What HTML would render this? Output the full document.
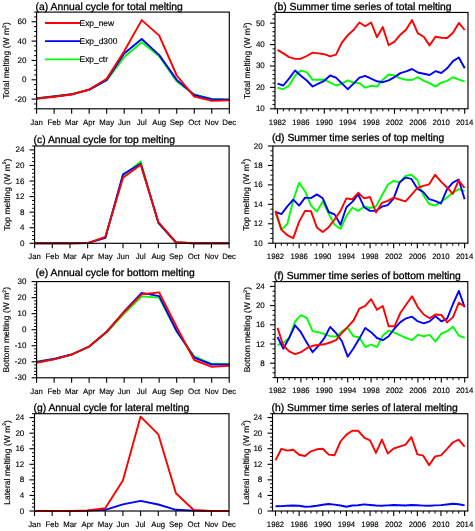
<!DOCTYPE html>
<html><head><meta charset="utf-8"><title>Melting</title>
<style>html,body{margin:0;padding:0;background:#fff;width:475px;height:531px;overflow:hidden;font-family:"Liberation Sans",sans-serif}svg{display:block;text-rendering:geometricPrecision}svg text{stroke:#000;stroke-width:0.14px}svg text.t{stroke-width:0.3px}svg text.a{stroke-width:0.16px}svg text.l{stroke-width:0.16px}svg{will-change:transform}</style>
</head><body>
<svg width="475" height="531" viewBox="0 0 475 531" font-family='&quot;Liberation Sans&quot;, sans-serif' fill="#000">
<rect width="100%" height="100%" fill="#fff"/>
<polyline points="36.6,98.2 54.12,96.3 71.64,94.2 89.15,89.6 106.67,80.4 124.19,57.1 141.71,42.3 159.23,56.3 176.75,81.5 194.26,94.5 211.78,99 229.3,99.5" fill="none" stroke="#00ff00" stroke-width="1.9" stroke-linejoin="round" stroke-linecap="butt"/>
<polyline points="36.6,98.4 54.12,96.5 71.64,94.3 89.15,89.8 106.67,79.9 124.19,53.4 141.71,39 159.23,55.1 176.75,79.9 194.26,95 211.78,99.2 229.3,99.6" fill="none" stroke="#0000ff" stroke-width="1.9" stroke-linejoin="round" stroke-linecap="butt"/>
<polyline points="36.6,98.7 54.12,96.7 71.64,94.5 89.15,89.5 106.67,78.7 124.19,51.2 141.71,20.1 159.23,35.6 176.75,75.5 194.26,96.7 211.78,100.9 229.3,100.4" fill="none" stroke="#ff0000" stroke-width="1.9" stroke-linejoin="round" stroke-linecap="butt"/>
<rect x="36.6" y="12.1" width="192.7" height="96.7" fill="none" stroke="#000" stroke-width="1.15"/>
<line x1="31.6" y1="99.13" x2="36.6" y2="99.13" stroke="#000" stroke-width="1.1"/>
<line x1="31.6" y1="79.79" x2="36.6" y2="79.79" stroke="#000" stroke-width="1.1"/>
<line x1="31.6" y1="60.45" x2="36.6" y2="60.45" stroke="#000" stroke-width="1.1"/>
<line x1="31.6" y1="41.11" x2="36.6" y2="41.11" stroke="#000" stroke-width="1.1"/>
<line x1="31.6" y1="21.77" x2="36.6" y2="21.77" stroke="#000" stroke-width="1.1"/>
<line x1="34.1" y1="108.8" x2="36.6" y2="108.8" stroke="#000" stroke-width="0.9900000000000001"/>
<line x1="34.1" y1="103.96" x2="36.6" y2="103.96" stroke="#000" stroke-width="0.9900000000000001"/>
<line x1="34.1" y1="94.29" x2="36.6" y2="94.29" stroke="#000" stroke-width="0.9900000000000001"/>
<line x1="34.1" y1="89.46" x2="36.6" y2="89.46" stroke="#000" stroke-width="0.9900000000000001"/>
<line x1="34.1" y1="84.62" x2="36.6" y2="84.62" stroke="#000" stroke-width="0.9900000000000001"/>
<line x1="34.1" y1="74.95" x2="36.6" y2="74.95" stroke="#000" stroke-width="0.9900000000000001"/>
<line x1="34.1" y1="70.12" x2="36.6" y2="70.12" stroke="#000" stroke-width="0.9900000000000001"/>
<line x1="34.1" y1="65.29" x2="36.6" y2="65.29" stroke="#000" stroke-width="0.9900000000000001"/>
<line x1="34.1" y1="55.62" x2="36.6" y2="55.62" stroke="#000" stroke-width="0.9900000000000001"/>
<line x1="34.1" y1="50.78" x2="36.6" y2="50.78" stroke="#000" stroke-width="0.9900000000000001"/>
<line x1="34.1" y1="45.95" x2="36.6" y2="45.95" stroke="#000" stroke-width="0.9900000000000001"/>
<line x1="34.1" y1="36.27" x2="36.6" y2="36.27" stroke="#000" stroke-width="0.9900000000000001"/>
<line x1="34.1" y1="31.44" x2="36.6" y2="31.44" stroke="#000" stroke-width="0.9900000000000001"/>
<line x1="34.1" y1="26.6" x2="36.6" y2="26.6" stroke="#000" stroke-width="0.9900000000000001"/>
<line x1="34.1" y1="16.94" x2="36.6" y2="16.94" stroke="#000" stroke-width="0.9900000000000001"/>
<line x1="34.1" y1="12.1" x2="36.6" y2="12.1" stroke="#000" stroke-width="0.9900000000000001"/>
<text x="26.4" y="101.63" text-anchor="end" font-size="8.0">-20</text>
<text x="26.4" y="82.29" text-anchor="end" font-size="8.0">0</text>
<text x="26.4" y="62.95" text-anchor="end" font-size="8.0">20</text>
<text x="26.4" y="43.61" text-anchor="end" font-size="8.0">40</text>
<text x="26.4" y="24.27" text-anchor="end" font-size="8.0">60</text>
<line x1="36.6" y1="108.8" x2="36.6" y2="113.8" stroke="#000" stroke-width="1.1"/>
<text x="36.6" y="124.6" text-anchor="middle" font-size="7.8">Jan</text>
<line x1="54.12" y1="108.8" x2="54.12" y2="113.8" stroke="#000" stroke-width="1.1"/>
<text x="54.12" y="124.6" text-anchor="middle" font-size="7.8">Feb</text>
<line x1="71.64" y1="108.8" x2="71.64" y2="113.8" stroke="#000" stroke-width="1.1"/>
<text x="71.64" y="124.6" text-anchor="middle" font-size="7.8">Mar</text>
<line x1="89.15" y1="108.8" x2="89.15" y2="113.8" stroke="#000" stroke-width="1.1"/>
<text x="89.15" y="124.6" text-anchor="middle" font-size="7.8">Apr</text>
<line x1="106.67" y1="108.8" x2="106.67" y2="113.8" stroke="#000" stroke-width="1.1"/>
<text x="106.67" y="124.6" text-anchor="middle" font-size="7.8">May</text>
<line x1="124.19" y1="108.8" x2="124.19" y2="113.8" stroke="#000" stroke-width="1.1"/>
<text x="124.19" y="124.6" text-anchor="middle" font-size="7.8">Jun</text>
<line x1="141.71" y1="108.8" x2="141.71" y2="113.8" stroke="#000" stroke-width="1.1"/>
<text x="141.71" y="124.6" text-anchor="middle" font-size="7.8">Jul</text>
<line x1="159.23" y1="108.8" x2="159.23" y2="113.8" stroke="#000" stroke-width="1.1"/>
<text x="159.23" y="124.6" text-anchor="middle" font-size="7.8">Aug</text>
<line x1="176.75" y1="108.8" x2="176.75" y2="113.8" stroke="#000" stroke-width="1.1"/>
<text x="176.75" y="124.6" text-anchor="middle" font-size="7.8">Sep</text>
<line x1="194.26" y1="108.8" x2="194.26" y2="113.8" stroke="#000" stroke-width="1.1"/>
<text x="194.26" y="124.6" text-anchor="middle" font-size="7.8">Oct</text>
<line x1="211.78" y1="108.8" x2="211.78" y2="113.8" stroke="#000" stroke-width="1.1"/>
<text x="211.78" y="124.6" text-anchor="middle" font-size="7.8">Nov</text>
<line x1="229.3" y1="108.8" x2="229.3" y2="113.8" stroke="#000" stroke-width="1.1"/>
<text x="229.3" y="124.6" text-anchor="middle" font-size="7.8">Dec</text>
<text class="t" x="35.6" y="9.5" font-size="10.35">(a) Annual cycle for total melting</text>
<text class="a" transform="translate(9.3,60.45) rotate(-90)" text-anchor="middle" font-size="8.4" letter-spacing="0.08">Total melting (W m<tspan font-size="5" dy="-3.6">2</tspan><tspan dy="3.6">)</tspan></text>
<polyline points="277.5,87.6 283.35,89.3 289.2,85.3 295.05,75.5 300.9,70.6 306.75,72.2 312.6,79.8 318.45,79.8 324.3,79.5 330.15,82.6 336,85.5 341.85,83.6 347.7,80.3 353.55,82.6 359.4,83.2 365.25,87.7 371.1,85.8 376.95,86.6 382.8,79.7 388.65,74.5 394.5,75.5 400.35,78.4 406.2,79.7 412.05,80 417.9,77.2 423.75,80.9 429.6,83.1 435.45,86.6 441.3,82.6 447.15,80.9 453,77.2 458.85,79.7 464.7,81.3" fill="none" stroke="#00ff00" stroke-width="1.9" stroke-linejoin="round" stroke-linecap="butt"/>
<polyline points="277.5,83.7 283.35,85.5 289.2,78.4 295.05,70.5 300.9,75.8 306.75,80.5 312.6,86.5 318.45,83.7 324.3,80.8 330.15,75.5 336,77.6 341.85,83.4 347.7,89.2 353.55,83.6 359.4,77.6 365.25,75.9 371.1,78.7 376.95,81.3 382.8,82.2 388.65,80.3 394.5,77.1 400.35,73.1 406.2,71.3 412.05,69 417.9,72.5 423.75,73.7 429.6,75 435.45,71.2 441.3,73 447.15,68.3 453,61.1 458.85,57.5 464.7,68.3" fill="none" stroke="#0000ff" stroke-width="1.9" stroke-linejoin="round" stroke-linecap="butt"/>
<polyline points="277.5,49.9 283.35,53.4 289.2,57.1 295.05,58.9 300.9,58.7 306.75,56 312.6,52.6 318.45,53.4 324.3,54.2 330.15,56.3 336,54.7 341.85,42.6 347.7,35.3 353.55,30 359.4,22.5 365.25,26.3 371.1,22.5 376.95,37.2 382.8,27.1 388.65,45.3 394.5,41.6 400.35,34.7 406.2,29.5 412.05,20.1 417.9,33.4 423.75,36.8 429.6,45.4 435.45,36.8 441.3,37.8 447.15,38 453,32.7 458.85,22.9 464.7,30" fill="none" stroke="#ff0000" stroke-width="1.9" stroke-linejoin="round" stroke-linecap="butt"/>
<rect x="275" y="12.45" width="193" height="96.35" fill="none" stroke="#000" stroke-width="1.15"/>
<line x1="270" y1="108.8" x2="275" y2="108.8" stroke="#000" stroke-width="1.1"/>
<line x1="270" y1="87.39" x2="275" y2="87.39" stroke="#000" stroke-width="1.1"/>
<line x1="270" y1="65.98" x2="275" y2="65.98" stroke="#000" stroke-width="1.1"/>
<line x1="270" y1="44.57" x2="275" y2="44.57" stroke="#000" stroke-width="1.1"/>
<line x1="270" y1="23.16" x2="275" y2="23.16" stroke="#000" stroke-width="1.1"/>
<line x1="272.5" y1="104.52" x2="275" y2="104.52" stroke="#000" stroke-width="0.9900000000000001"/>
<line x1="272.5" y1="100.24" x2="275" y2="100.24" stroke="#000" stroke-width="0.9900000000000001"/>
<line x1="272.5" y1="95.95" x2="275" y2="95.95" stroke="#000" stroke-width="0.9900000000000001"/>
<line x1="272.5" y1="91.67" x2="275" y2="91.67" stroke="#000" stroke-width="0.9900000000000001"/>
<line x1="272.5" y1="83.11" x2="275" y2="83.11" stroke="#000" stroke-width="0.9900000000000001"/>
<line x1="272.5" y1="78.82" x2="275" y2="78.82" stroke="#000" stroke-width="0.9900000000000001"/>
<line x1="272.5" y1="74.54" x2="275" y2="74.54" stroke="#000" stroke-width="0.9900000000000001"/>
<line x1="272.5" y1="70.26" x2="275" y2="70.26" stroke="#000" stroke-width="0.9900000000000001"/>
<line x1="272.5" y1="61.7" x2="275" y2="61.7" stroke="#000" stroke-width="0.9900000000000001"/>
<line x1="272.5" y1="57.41" x2="275" y2="57.41" stroke="#000" stroke-width="0.9900000000000001"/>
<line x1="272.5" y1="53.13" x2="275" y2="53.13" stroke="#000" stroke-width="0.9900000000000001"/>
<line x1="272.5" y1="48.85" x2="275" y2="48.85" stroke="#000" stroke-width="0.9900000000000001"/>
<line x1="272.5" y1="40.28" x2="275" y2="40.28" stroke="#000" stroke-width="0.9900000000000001"/>
<line x1="272.5" y1="36" x2="275" y2="36" stroke="#000" stroke-width="0.9900000000000001"/>
<line x1="272.5" y1="31.72" x2="275" y2="31.72" stroke="#000" stroke-width="0.9900000000000001"/>
<line x1="272.5" y1="27.44" x2="275" y2="27.44" stroke="#000" stroke-width="0.9900000000000001"/>
<line x1="272.5" y1="18.87" x2="275" y2="18.87" stroke="#000" stroke-width="0.9900000000000001"/>
<line x1="272.5" y1="14.59" x2="275" y2="14.59" stroke="#000" stroke-width="0.9900000000000001"/>
<text x="264.8" y="111.3" text-anchor="end" font-size="8.0">10</text>
<text x="264.8" y="89.89" text-anchor="end" font-size="8.0">20</text>
<text x="264.8" y="68.48" text-anchor="end" font-size="8.0">30</text>
<text x="264.8" y="47.07" text-anchor="end" font-size="8.0">40</text>
<text x="264.8" y="25.66" text-anchor="end" font-size="8.0">50</text>
<line x1="277.5" y1="108.8" x2="277.5" y2="113.8" stroke="#000" stroke-width="1.1"/>
<text x="277.5" y="124.6" text-anchor="middle" font-size="7.8">1982</text>
<line x1="283.35" y1="108.8" x2="283.35" y2="111.3" stroke="#000" stroke-width="0.9900000000000001"/>
<line x1="289.2" y1="108.8" x2="289.2" y2="111.3" stroke="#000" stroke-width="0.9900000000000001"/>
<line x1="295.05" y1="108.8" x2="295.05" y2="111.3" stroke="#000" stroke-width="0.9900000000000001"/>
<line x1="300.9" y1="108.8" x2="300.9" y2="113.8" stroke="#000" stroke-width="1.1"/>
<text x="300.9" y="124.6" text-anchor="middle" font-size="7.8">1986</text>
<line x1="306.75" y1="108.8" x2="306.75" y2="111.3" stroke="#000" stroke-width="0.9900000000000001"/>
<line x1="312.6" y1="108.8" x2="312.6" y2="111.3" stroke="#000" stroke-width="0.9900000000000001"/>
<line x1="318.45" y1="108.8" x2="318.45" y2="111.3" stroke="#000" stroke-width="0.9900000000000001"/>
<line x1="324.3" y1="108.8" x2="324.3" y2="113.8" stroke="#000" stroke-width="1.1"/>
<text x="324.3" y="124.6" text-anchor="middle" font-size="7.8">1990</text>
<line x1="330.15" y1="108.8" x2="330.15" y2="111.3" stroke="#000" stroke-width="0.9900000000000001"/>
<line x1="336" y1="108.8" x2="336" y2="111.3" stroke="#000" stroke-width="0.9900000000000001"/>
<line x1="341.85" y1="108.8" x2="341.85" y2="111.3" stroke="#000" stroke-width="0.9900000000000001"/>
<line x1="347.7" y1="108.8" x2="347.7" y2="113.8" stroke="#000" stroke-width="1.1"/>
<text x="347.7" y="124.6" text-anchor="middle" font-size="7.8">1994</text>
<line x1="353.55" y1="108.8" x2="353.55" y2="111.3" stroke="#000" stroke-width="0.9900000000000001"/>
<line x1="359.4" y1="108.8" x2="359.4" y2="111.3" stroke="#000" stroke-width="0.9900000000000001"/>
<line x1="365.25" y1="108.8" x2="365.25" y2="111.3" stroke="#000" stroke-width="0.9900000000000001"/>
<line x1="371.1" y1="108.8" x2="371.1" y2="113.8" stroke="#000" stroke-width="1.1"/>
<text x="371.1" y="124.6" text-anchor="middle" font-size="7.8">1998</text>
<line x1="376.95" y1="108.8" x2="376.95" y2="111.3" stroke="#000" stroke-width="0.9900000000000001"/>
<line x1="382.8" y1="108.8" x2="382.8" y2="111.3" stroke="#000" stroke-width="0.9900000000000001"/>
<line x1="388.65" y1="108.8" x2="388.65" y2="111.3" stroke="#000" stroke-width="0.9900000000000001"/>
<line x1="394.5" y1="108.8" x2="394.5" y2="113.8" stroke="#000" stroke-width="1.1"/>
<text x="394.5" y="124.6" text-anchor="middle" font-size="7.8">2002</text>
<line x1="400.35" y1="108.8" x2="400.35" y2="111.3" stroke="#000" stroke-width="0.9900000000000001"/>
<line x1="406.2" y1="108.8" x2="406.2" y2="111.3" stroke="#000" stroke-width="0.9900000000000001"/>
<line x1="412.05" y1="108.8" x2="412.05" y2="111.3" stroke="#000" stroke-width="0.9900000000000001"/>
<line x1="417.9" y1="108.8" x2="417.9" y2="113.8" stroke="#000" stroke-width="1.1"/>
<text x="417.9" y="124.6" text-anchor="middle" font-size="7.8">2006</text>
<line x1="423.75" y1="108.8" x2="423.75" y2="111.3" stroke="#000" stroke-width="0.9900000000000001"/>
<line x1="429.6" y1="108.8" x2="429.6" y2="111.3" stroke="#000" stroke-width="0.9900000000000001"/>
<line x1="435.45" y1="108.8" x2="435.45" y2="111.3" stroke="#000" stroke-width="0.9900000000000001"/>
<line x1="441.3" y1="108.8" x2="441.3" y2="113.8" stroke="#000" stroke-width="1.1"/>
<text x="441.3" y="124.6" text-anchor="middle" font-size="7.8">2010</text>
<line x1="447.15" y1="108.8" x2="447.15" y2="111.3" stroke="#000" stroke-width="0.9900000000000001"/>
<line x1="453" y1="108.8" x2="453" y2="111.3" stroke="#000" stroke-width="0.9900000000000001"/>
<line x1="458.85" y1="108.8" x2="458.85" y2="111.3" stroke="#000" stroke-width="0.9900000000000001"/>
<line x1="464.7" y1="108.8" x2="464.7" y2="113.8" stroke="#000" stroke-width="1.1"/>
<text x="464.7" y="124.6" text-anchor="middle" font-size="7.8">2014</text>
<text class="t" x="274" y="9.85" font-size="10.35">(b) Summer time series of total melting</text>
<text class="a" transform="translate(250.1,60.62) rotate(-90)" text-anchor="middle" font-size="8.4" letter-spacing="0.08">Total melting (W m<tspan font-size="5" dy="-3.6">2</tspan><tspan dy="3.6">)</tspan></text>
<polyline points="34.6,243.3 52.28,243.3 69.96,243.3 87.65,243.1 105.33,237.5 123.01,176 140.69,161.6 158.37,222.8 176.05,242.5 193.74,243.3 211.42,243.3 229.1,243.3" fill="none" stroke="#00ff00" stroke-width="1.9" stroke-linejoin="round" stroke-linecap="butt"/>
<polyline points="34.6,243.3 52.28,243.3 69.96,243.3 87.65,243.1 105.33,237.9 123.01,174.3 140.69,163.7 158.37,222.8 176.05,242.5 193.74,243.3 211.42,243.3 229.1,243.3" fill="none" stroke="#0000ff" stroke-width="1.9" stroke-linejoin="round" stroke-linecap="butt"/>
<polyline points="34.6,243.3 52.28,243.3 69.96,243.3 87.65,243.1 105.33,236.8 123.01,177.8 140.69,164.8 158.37,222 176.05,242.3 193.74,243.3 211.42,243.3 229.1,243.3" fill="none" stroke="#ff0000" stroke-width="1.9" stroke-linejoin="round" stroke-linecap="butt"/>
<rect x="34.6" y="146" width="194.5" height="97.3" fill="none" stroke="#000" stroke-width="1.15"/>
<line x1="29.6" y1="243.3" x2="34.6" y2="243.3" stroke="#000" stroke-width="1.1"/>
<line x1="29.6" y1="227.73" x2="34.6" y2="227.73" stroke="#000" stroke-width="1.1"/>
<line x1="29.6" y1="212.16" x2="34.6" y2="212.16" stroke="#000" stroke-width="1.1"/>
<line x1="29.6" y1="196.6" x2="34.6" y2="196.6" stroke="#000" stroke-width="1.1"/>
<line x1="29.6" y1="181.03" x2="34.6" y2="181.03" stroke="#000" stroke-width="1.1"/>
<line x1="29.6" y1="165.46" x2="34.6" y2="165.46" stroke="#000" stroke-width="1.1"/>
<line x1="29.6" y1="149.89" x2="34.6" y2="149.89" stroke="#000" stroke-width="1.1"/>
<line x1="32.1" y1="239.41" x2="34.6" y2="239.41" stroke="#000" stroke-width="0.9900000000000001"/>
<line x1="32.1" y1="235.52" x2="34.6" y2="235.52" stroke="#000" stroke-width="0.9900000000000001"/>
<line x1="32.1" y1="231.62" x2="34.6" y2="231.62" stroke="#000" stroke-width="0.9900000000000001"/>
<line x1="32.1" y1="223.84" x2="34.6" y2="223.84" stroke="#000" stroke-width="0.9900000000000001"/>
<line x1="32.1" y1="219.95" x2="34.6" y2="219.95" stroke="#000" stroke-width="0.9900000000000001"/>
<line x1="32.1" y1="216.06" x2="34.6" y2="216.06" stroke="#000" stroke-width="0.9900000000000001"/>
<line x1="32.1" y1="208.27" x2="34.6" y2="208.27" stroke="#000" stroke-width="0.9900000000000001"/>
<line x1="32.1" y1="204.38" x2="34.6" y2="204.38" stroke="#000" stroke-width="0.9900000000000001"/>
<line x1="32.1" y1="200.49" x2="34.6" y2="200.49" stroke="#000" stroke-width="0.9900000000000001"/>
<line x1="32.1" y1="192.7" x2="34.6" y2="192.7" stroke="#000" stroke-width="0.9900000000000001"/>
<line x1="32.1" y1="188.81" x2="34.6" y2="188.81" stroke="#000" stroke-width="0.9900000000000001"/>
<line x1="32.1" y1="184.92" x2="34.6" y2="184.92" stroke="#000" stroke-width="0.9900000000000001"/>
<line x1="32.1" y1="177.14" x2="34.6" y2="177.14" stroke="#000" stroke-width="0.9900000000000001"/>
<line x1="32.1" y1="173.24" x2="34.6" y2="173.24" stroke="#000" stroke-width="0.9900000000000001"/>
<line x1="32.1" y1="169.35" x2="34.6" y2="169.35" stroke="#000" stroke-width="0.9900000000000001"/>
<line x1="32.1" y1="161.57" x2="34.6" y2="161.57" stroke="#000" stroke-width="0.9900000000000001"/>
<line x1="32.1" y1="157.68" x2="34.6" y2="157.68" stroke="#000" stroke-width="0.9900000000000001"/>
<line x1="32.1" y1="153.78" x2="34.6" y2="153.78" stroke="#000" stroke-width="0.9900000000000001"/>
<line x1="32.1" y1="146" x2="34.6" y2="146" stroke="#000" stroke-width="0.9900000000000001"/>
<text x="24.4" y="245.8" text-anchor="end" font-size="8.0">0</text>
<text x="24.4" y="230.23" text-anchor="end" font-size="8.0">4</text>
<text x="24.4" y="214.66" text-anchor="end" font-size="8.0">8</text>
<text x="24.4" y="199.1" text-anchor="end" font-size="8.0">12</text>
<text x="24.4" y="183.53" text-anchor="end" font-size="8.0">16</text>
<text x="24.4" y="167.96" text-anchor="end" font-size="8.0">20</text>
<text x="24.4" y="152.39" text-anchor="end" font-size="8.0">24</text>
<line x1="34.6" y1="243.3" x2="34.6" y2="248.3" stroke="#000" stroke-width="1.1"/>
<text x="34.6" y="259.1" text-anchor="middle" font-size="7.8">Jan</text>
<line x1="52.28" y1="243.3" x2="52.28" y2="248.3" stroke="#000" stroke-width="1.1"/>
<text x="52.28" y="259.1" text-anchor="middle" font-size="7.8">Feb</text>
<line x1="69.96" y1="243.3" x2="69.96" y2="248.3" stroke="#000" stroke-width="1.1"/>
<text x="69.96" y="259.1" text-anchor="middle" font-size="7.8">Mar</text>
<line x1="87.65" y1="243.3" x2="87.65" y2="248.3" stroke="#000" stroke-width="1.1"/>
<text x="87.65" y="259.1" text-anchor="middle" font-size="7.8">Apr</text>
<line x1="105.33" y1="243.3" x2="105.33" y2="248.3" stroke="#000" stroke-width="1.1"/>
<text x="105.33" y="259.1" text-anchor="middle" font-size="7.8">May</text>
<line x1="123.01" y1="243.3" x2="123.01" y2="248.3" stroke="#000" stroke-width="1.1"/>
<text x="123.01" y="259.1" text-anchor="middle" font-size="7.8">Jun</text>
<line x1="140.69" y1="243.3" x2="140.69" y2="248.3" stroke="#000" stroke-width="1.1"/>
<text x="140.69" y="259.1" text-anchor="middle" font-size="7.8">Jul</text>
<line x1="158.37" y1="243.3" x2="158.37" y2="248.3" stroke="#000" stroke-width="1.1"/>
<text x="158.37" y="259.1" text-anchor="middle" font-size="7.8">Aug</text>
<line x1="176.05" y1="243.3" x2="176.05" y2="248.3" stroke="#000" stroke-width="1.1"/>
<text x="176.05" y="259.1" text-anchor="middle" font-size="7.8">Sep</text>
<line x1="193.74" y1="243.3" x2="193.74" y2="248.3" stroke="#000" stroke-width="1.1"/>
<text x="193.74" y="259.1" text-anchor="middle" font-size="7.8">Oct</text>
<line x1="211.42" y1="243.3" x2="211.42" y2="248.3" stroke="#000" stroke-width="1.1"/>
<text x="211.42" y="259.1" text-anchor="middle" font-size="7.8">Nov</text>
<line x1="229.1" y1="243.3" x2="229.1" y2="248.3" stroke="#000" stroke-width="1.1"/>
<text x="229.1" y="259.1" text-anchor="middle" font-size="7.8">Dec</text>
<text class="t" x="33.6" y="143.4" font-size="10.35">(c) Annual cycle for top melting</text>
<text class="a" transform="translate(9.5,194.65) rotate(-90)" text-anchor="middle" font-size="8.4" letter-spacing="0.08">Top melting (W m<tspan font-size="5" dy="-3.6">2</tspan><tspan dy="3.6">)</tspan></text>
<polyline points="275.5,212.8 281.41,229.6 287.32,224 293.23,200 299.14,182.7 305.05,191.2 310.96,205.6 316.87,211.5 322.77,201.4 328.68,213.6 334.59,224.8 340.5,228.8 346.41,216 352.32,207.7 358.23,210.9 364.14,206.4 370.05,208 375.96,206.4 381.87,195.5 387.78,184.8 393.69,180.8 399.6,182.4 405.51,176 411.42,174.7 417.33,180 423.23,195 429.14,204 435.05,205.6 440.96,201.9 446.87,197.6 452.78,192.8 458.69,189.1 464.6,191.2" fill="none" stroke="#00ff00" stroke-width="1.9" stroke-linejoin="round" stroke-linecap="butt"/>
<polyline points="275.5,212 281.41,214.1 287.32,206.4 293.23,199.7 299.14,205.6 305.05,197.6 310.96,198.1 316.87,194.4 322.77,198.3 328.68,212 334.59,214.4 340.5,224.8 346.41,207.2 352.32,201.9 358.23,194.4 364.14,207.2 370.05,210.9 375.96,210.9 381.87,206.7 387.78,205.1 393.69,198.4 399.6,182.4 405.51,177.6 411.42,178.9 417.33,188.6 423.23,192 429.14,199.2 435.05,200.8 440.96,203.5 446.87,189.6 452.78,182.7 458.69,179.5 464.6,199.2" fill="none" stroke="#0000ff" stroke-width="1.9" stroke-linejoin="round" stroke-linecap="butt"/>
<polyline points="275.5,210.9 281.41,229.6 287.32,235.2 293.23,238.1 299.14,221.6 305.05,210.9 310.96,211.2 316.87,227.4 322.77,232 328.68,227.2 334.59,219.5 340.5,210.9 346.41,198.4 352.32,199.2 358.23,192.8 364.14,198.4 370.05,197 375.96,212.5 381.87,202.9 387.78,200.8 393.69,197.6 399.6,199.7 405.51,201.3 411.42,194.9 417.33,188 423.23,185.8 429.14,184.3 435.05,174.7 440.96,181.6 446.87,187.2 452.78,193.9 458.69,180.5 464.6,188" fill="none" stroke="#ff0000" stroke-width="1.9" stroke-linejoin="round" stroke-linecap="butt"/>
<rect x="272.9" y="146" width="195" height="97.2" fill="none" stroke="#000" stroke-width="1.15"/>
<line x1="267.9" y1="243.2" x2="272.9" y2="243.2" stroke="#000" stroke-width="1.1"/>
<line x1="267.9" y1="223.76" x2="272.9" y2="223.76" stroke="#000" stroke-width="1.1"/>
<line x1="267.9" y1="204.32" x2="272.9" y2="204.32" stroke="#000" stroke-width="1.1"/>
<line x1="267.9" y1="184.88" x2="272.9" y2="184.88" stroke="#000" stroke-width="1.1"/>
<line x1="267.9" y1="165.44" x2="272.9" y2="165.44" stroke="#000" stroke-width="1.1"/>
<line x1="267.9" y1="146" x2="272.9" y2="146" stroke="#000" stroke-width="1.1"/>
<line x1="270.4" y1="238.34" x2="272.9" y2="238.34" stroke="#000" stroke-width="0.9900000000000001"/>
<line x1="270.4" y1="233.48" x2="272.9" y2="233.48" stroke="#000" stroke-width="0.9900000000000001"/>
<line x1="270.4" y1="228.62" x2="272.9" y2="228.62" stroke="#000" stroke-width="0.9900000000000001"/>
<line x1="270.4" y1="218.9" x2="272.9" y2="218.9" stroke="#000" stroke-width="0.9900000000000001"/>
<line x1="270.4" y1="214.04" x2="272.9" y2="214.04" stroke="#000" stroke-width="0.9900000000000001"/>
<line x1="270.4" y1="209.18" x2="272.9" y2="209.18" stroke="#000" stroke-width="0.9900000000000001"/>
<line x1="270.4" y1="199.46" x2="272.9" y2="199.46" stroke="#000" stroke-width="0.9900000000000001"/>
<line x1="270.4" y1="194.6" x2="272.9" y2="194.6" stroke="#000" stroke-width="0.9900000000000001"/>
<line x1="270.4" y1="189.74" x2="272.9" y2="189.74" stroke="#000" stroke-width="0.9900000000000001"/>
<line x1="270.4" y1="180.02" x2="272.9" y2="180.02" stroke="#000" stroke-width="0.9900000000000001"/>
<line x1="270.4" y1="175.16" x2="272.9" y2="175.16" stroke="#000" stroke-width="0.9900000000000001"/>
<line x1="270.4" y1="170.3" x2="272.9" y2="170.3" stroke="#000" stroke-width="0.9900000000000001"/>
<line x1="270.4" y1="160.58" x2="272.9" y2="160.58" stroke="#000" stroke-width="0.9900000000000001"/>
<line x1="270.4" y1="155.72" x2="272.9" y2="155.72" stroke="#000" stroke-width="0.9900000000000001"/>
<line x1="270.4" y1="150.86" x2="272.9" y2="150.86" stroke="#000" stroke-width="0.9900000000000001"/>
<text x="262.7" y="245.7" text-anchor="end" font-size="8.0">10</text>
<text x="262.7" y="226.26" text-anchor="end" font-size="8.0">12</text>
<text x="262.7" y="206.82" text-anchor="end" font-size="8.0">14</text>
<text x="262.7" y="187.38" text-anchor="end" font-size="8.0">16</text>
<text x="262.7" y="167.94" text-anchor="end" font-size="8.0">18</text>
<text x="262.7" y="148.5" text-anchor="end" font-size="8.0">20</text>
<line x1="275.5" y1="243.2" x2="275.5" y2="248.2" stroke="#000" stroke-width="1.1"/>
<text x="275.5" y="259" text-anchor="middle" font-size="7.8">1982</text>
<line x1="281.41" y1="243.2" x2="281.41" y2="245.7" stroke="#000" stroke-width="0.9900000000000001"/>
<line x1="287.32" y1="243.2" x2="287.32" y2="245.7" stroke="#000" stroke-width="0.9900000000000001"/>
<line x1="293.23" y1="243.2" x2="293.23" y2="245.7" stroke="#000" stroke-width="0.9900000000000001"/>
<line x1="299.14" y1="243.2" x2="299.14" y2="248.2" stroke="#000" stroke-width="1.1"/>
<text x="299.14" y="259" text-anchor="middle" font-size="7.8">1986</text>
<line x1="305.05" y1="243.2" x2="305.05" y2="245.7" stroke="#000" stroke-width="0.9900000000000001"/>
<line x1="310.96" y1="243.2" x2="310.96" y2="245.7" stroke="#000" stroke-width="0.9900000000000001"/>
<line x1="316.87" y1="243.2" x2="316.87" y2="245.7" stroke="#000" stroke-width="0.9900000000000001"/>
<line x1="322.77" y1="243.2" x2="322.77" y2="248.2" stroke="#000" stroke-width="1.1"/>
<text x="322.77" y="259" text-anchor="middle" font-size="7.8">1990</text>
<line x1="328.68" y1="243.2" x2="328.68" y2="245.7" stroke="#000" stroke-width="0.9900000000000001"/>
<line x1="334.59" y1="243.2" x2="334.59" y2="245.7" stroke="#000" stroke-width="0.9900000000000001"/>
<line x1="340.5" y1="243.2" x2="340.5" y2="245.7" stroke="#000" stroke-width="0.9900000000000001"/>
<line x1="346.41" y1="243.2" x2="346.41" y2="248.2" stroke="#000" stroke-width="1.1"/>
<text x="346.41" y="259" text-anchor="middle" font-size="7.8">1994</text>
<line x1="352.32" y1="243.2" x2="352.32" y2="245.7" stroke="#000" stroke-width="0.9900000000000001"/>
<line x1="358.23" y1="243.2" x2="358.23" y2="245.7" stroke="#000" stroke-width="0.9900000000000001"/>
<line x1="364.14" y1="243.2" x2="364.14" y2="245.7" stroke="#000" stroke-width="0.9900000000000001"/>
<line x1="370.05" y1="243.2" x2="370.05" y2="248.2" stroke="#000" stroke-width="1.1"/>
<text x="370.05" y="259" text-anchor="middle" font-size="7.8">1998</text>
<line x1="375.96" y1="243.2" x2="375.96" y2="245.7" stroke="#000" stroke-width="0.9900000000000001"/>
<line x1="381.87" y1="243.2" x2="381.87" y2="245.7" stroke="#000" stroke-width="0.9900000000000001"/>
<line x1="387.78" y1="243.2" x2="387.78" y2="245.7" stroke="#000" stroke-width="0.9900000000000001"/>
<line x1="393.69" y1="243.2" x2="393.69" y2="248.2" stroke="#000" stroke-width="1.1"/>
<text x="393.69" y="259" text-anchor="middle" font-size="7.8">2002</text>
<line x1="399.6" y1="243.2" x2="399.6" y2="245.7" stroke="#000" stroke-width="0.9900000000000001"/>
<line x1="405.51" y1="243.2" x2="405.51" y2="245.7" stroke="#000" stroke-width="0.9900000000000001"/>
<line x1="411.42" y1="243.2" x2="411.42" y2="245.7" stroke="#000" stroke-width="0.9900000000000001"/>
<line x1="417.33" y1="243.2" x2="417.33" y2="248.2" stroke="#000" stroke-width="1.1"/>
<text x="417.33" y="259" text-anchor="middle" font-size="7.8">2006</text>
<line x1="423.23" y1="243.2" x2="423.23" y2="245.7" stroke="#000" stroke-width="0.9900000000000001"/>
<line x1="429.14" y1="243.2" x2="429.14" y2="245.7" stroke="#000" stroke-width="0.9900000000000001"/>
<line x1="435.05" y1="243.2" x2="435.05" y2="245.7" stroke="#000" stroke-width="0.9900000000000001"/>
<line x1="440.96" y1="243.2" x2="440.96" y2="248.2" stroke="#000" stroke-width="1.1"/>
<text x="440.96" y="259" text-anchor="middle" font-size="7.8">2010</text>
<line x1="446.87" y1="243.2" x2="446.87" y2="245.7" stroke="#000" stroke-width="0.9900000000000001"/>
<line x1="452.78" y1="243.2" x2="452.78" y2="245.7" stroke="#000" stroke-width="0.9900000000000001"/>
<line x1="458.69" y1="243.2" x2="458.69" y2="245.7" stroke="#000" stroke-width="0.9900000000000001"/>
<line x1="464.6" y1="243.2" x2="464.6" y2="248.2" stroke="#000" stroke-width="1.1"/>
<text x="464.6" y="259" text-anchor="middle" font-size="7.8">2014</text>
<text class="t" x="271.9" y="140.6" font-size="10.35">(d) Summer time series of top melting</text>
<text class="a" transform="translate(248.7,194.6) rotate(-90)" text-anchor="middle" font-size="8.4" letter-spacing="0.08">Top melting (W m<tspan font-size="5" dy="-3.6">2</tspan><tspan dy="3.6">)</tspan></text>
<polyline points="36.6,361.8 54.11,358.8 71.62,354.5 89.13,346.8 106.64,332.5 124.15,313.5 141.65,296.4 159.16,297.6 176.67,331.5 194.18,356.3 211.69,363.8 229.2,364" fill="none" stroke="#00ff00" stroke-width="1.9" stroke-linejoin="round" stroke-linecap="butt"/>
<polyline points="36.6,362 54.11,359 71.62,354.5 89.13,346.5 106.64,331.8 124.15,311.5 141.65,292.9 159.16,296.1 176.67,331 194.18,357.6 211.69,364.5 229.2,364.5" fill="none" stroke="#0000ff" stroke-width="1.9" stroke-linejoin="round" stroke-linecap="butt"/>
<polyline points="36.6,362.7 54.11,359.4 71.62,354.7 89.13,346.5 106.64,331.6 124.15,312 141.65,294.3 159.16,292.4 176.67,327 194.18,360 211.69,366.9 229.2,365.8" fill="none" stroke="#ff0000" stroke-width="1.9" stroke-linejoin="round" stroke-linecap="butt"/>
<rect x="36.6" y="281.6" width="192.6" height="96.2" fill="none" stroke="#000" stroke-width="1.15"/>
<line x1="31.6" y1="377.8" x2="36.6" y2="377.8" stroke="#000" stroke-width="1.1"/>
<line x1="31.6" y1="361.77" x2="36.6" y2="361.77" stroke="#000" stroke-width="1.1"/>
<line x1="31.6" y1="345.73" x2="36.6" y2="345.73" stroke="#000" stroke-width="1.1"/>
<line x1="31.6" y1="329.7" x2="36.6" y2="329.7" stroke="#000" stroke-width="1.1"/>
<line x1="31.6" y1="313.67" x2="36.6" y2="313.67" stroke="#000" stroke-width="1.1"/>
<line x1="31.6" y1="297.63" x2="36.6" y2="297.63" stroke="#000" stroke-width="1.1"/>
<line x1="31.6" y1="281.6" x2="36.6" y2="281.6" stroke="#000" stroke-width="1.1"/>
<line x1="34.1" y1="374.59" x2="36.6" y2="374.59" stroke="#000" stroke-width="0.9900000000000001"/>
<line x1="34.1" y1="371.39" x2="36.6" y2="371.39" stroke="#000" stroke-width="0.9900000000000001"/>
<line x1="34.1" y1="368.18" x2="36.6" y2="368.18" stroke="#000" stroke-width="0.9900000000000001"/>
<line x1="34.1" y1="364.97" x2="36.6" y2="364.97" stroke="#000" stroke-width="0.9900000000000001"/>
<line x1="34.1" y1="358.56" x2="36.6" y2="358.56" stroke="#000" stroke-width="0.9900000000000001"/>
<line x1="34.1" y1="355.35" x2="36.6" y2="355.35" stroke="#000" stroke-width="0.9900000000000001"/>
<line x1="34.1" y1="352.15" x2="36.6" y2="352.15" stroke="#000" stroke-width="0.9900000000000001"/>
<line x1="34.1" y1="348.94" x2="36.6" y2="348.94" stroke="#000" stroke-width="0.9900000000000001"/>
<line x1="34.1" y1="342.53" x2="36.6" y2="342.53" stroke="#000" stroke-width="0.9900000000000001"/>
<line x1="34.1" y1="339.32" x2="36.6" y2="339.32" stroke="#000" stroke-width="0.9900000000000001"/>
<line x1="34.1" y1="336.11" x2="36.6" y2="336.11" stroke="#000" stroke-width="0.9900000000000001"/>
<line x1="34.1" y1="332.91" x2="36.6" y2="332.91" stroke="#000" stroke-width="0.9900000000000001"/>
<line x1="34.1" y1="326.49" x2="36.6" y2="326.49" stroke="#000" stroke-width="0.9900000000000001"/>
<line x1="34.1" y1="323.29" x2="36.6" y2="323.29" stroke="#000" stroke-width="0.9900000000000001"/>
<line x1="34.1" y1="320.08" x2="36.6" y2="320.08" stroke="#000" stroke-width="0.9900000000000001"/>
<line x1="34.1" y1="316.87" x2="36.6" y2="316.87" stroke="#000" stroke-width="0.9900000000000001"/>
<line x1="34.1" y1="310.46" x2="36.6" y2="310.46" stroke="#000" stroke-width="0.9900000000000001"/>
<line x1="34.1" y1="307.25" x2="36.6" y2="307.25" stroke="#000" stroke-width="0.9900000000000001"/>
<line x1="34.1" y1="304.05" x2="36.6" y2="304.05" stroke="#000" stroke-width="0.9900000000000001"/>
<line x1="34.1" y1="300.84" x2="36.6" y2="300.84" stroke="#000" stroke-width="0.9900000000000001"/>
<line x1="34.1" y1="294.43" x2="36.6" y2="294.43" stroke="#000" stroke-width="0.9900000000000001"/>
<line x1="34.1" y1="291.22" x2="36.6" y2="291.22" stroke="#000" stroke-width="0.9900000000000001"/>
<line x1="34.1" y1="288.01" x2="36.6" y2="288.01" stroke="#000" stroke-width="0.9900000000000001"/>
<line x1="34.1" y1="284.81" x2="36.6" y2="284.81" stroke="#000" stroke-width="0.9900000000000001"/>
<text x="26.4" y="380.3" text-anchor="end" font-size="8.0">-30</text>
<text x="26.4" y="364.27" text-anchor="end" font-size="8.0">-20</text>
<text x="26.4" y="348.23" text-anchor="end" font-size="8.0">-10</text>
<text x="26.4" y="332.2" text-anchor="end" font-size="8.0">0</text>
<text x="26.4" y="316.17" text-anchor="end" font-size="8.0">10</text>
<text x="26.4" y="300.13" text-anchor="end" font-size="8.0">20</text>
<text x="26.4" y="284.1" text-anchor="end" font-size="8.0">30</text>
<line x1="36.6" y1="377.8" x2="36.6" y2="382.8" stroke="#000" stroke-width="1.1"/>
<text x="36.6" y="393.6" text-anchor="middle" font-size="7.8">Jan</text>
<line x1="54.11" y1="377.8" x2="54.11" y2="382.8" stroke="#000" stroke-width="1.1"/>
<text x="54.11" y="393.6" text-anchor="middle" font-size="7.8">Feb</text>
<line x1="71.62" y1="377.8" x2="71.62" y2="382.8" stroke="#000" stroke-width="1.1"/>
<text x="71.62" y="393.6" text-anchor="middle" font-size="7.8">Mar</text>
<line x1="89.13" y1="377.8" x2="89.13" y2="382.8" stroke="#000" stroke-width="1.1"/>
<text x="89.13" y="393.6" text-anchor="middle" font-size="7.8">Apr</text>
<line x1="106.64" y1="377.8" x2="106.64" y2="382.8" stroke="#000" stroke-width="1.1"/>
<text x="106.64" y="393.6" text-anchor="middle" font-size="7.8">May</text>
<line x1="124.15" y1="377.8" x2="124.15" y2="382.8" stroke="#000" stroke-width="1.1"/>
<text x="124.15" y="393.6" text-anchor="middle" font-size="7.8">Jun</text>
<line x1="141.65" y1="377.8" x2="141.65" y2="382.8" stroke="#000" stroke-width="1.1"/>
<text x="141.65" y="393.6" text-anchor="middle" font-size="7.8">Jul</text>
<line x1="159.16" y1="377.8" x2="159.16" y2="382.8" stroke="#000" stroke-width="1.1"/>
<text x="159.16" y="393.6" text-anchor="middle" font-size="7.8">Aug</text>
<line x1="176.67" y1="377.8" x2="176.67" y2="382.8" stroke="#000" stroke-width="1.1"/>
<text x="176.67" y="393.6" text-anchor="middle" font-size="7.8">Sep</text>
<line x1="194.18" y1="377.8" x2="194.18" y2="382.8" stroke="#000" stroke-width="1.1"/>
<text x="194.18" y="393.6" text-anchor="middle" font-size="7.8">Oct</text>
<line x1="211.69" y1="377.8" x2="211.69" y2="382.8" stroke="#000" stroke-width="1.1"/>
<text x="211.69" y="393.6" text-anchor="middle" font-size="7.8">Nov</text>
<line x1="229.2" y1="377.8" x2="229.2" y2="382.8" stroke="#000" stroke-width="1.1"/>
<text x="229.2" y="393.6" text-anchor="middle" font-size="7.8">Dec</text>
<text class="t" x="35.6" y="276.4" font-size="10.35">(e) Annual cycle for bottom melting</text>
<text class="a" transform="translate(9.3,329.7) rotate(-90)" text-anchor="middle" font-size="8.4" letter-spacing="0.08">Bottom melting (W m<tspan font-size="5" dy="-3.6">2</tspan><tspan dy="3.6">)</tspan></text>
<polyline points="277.5,345 283.35,342.9 289.2,337.8 295.05,321.5 300.9,315.1 306.75,317.8 312.6,331.1 318.45,332.2 324.3,334.2 330.15,336.2 336,336.5 341.85,331.4 347.7,327.9 353.55,336.2 359.4,337.5 365.25,347.1 371.1,344.5 376.95,347.2 382.8,335.4 388.65,330.6 394.5,332.7 400.35,335.4 406.2,338.1 412.05,340.2 417.9,334.6 423.75,336.4 429.6,334.8 435.45,341.5 441.3,333.6 447.15,331.2 453,326.7 458.85,335.7 464.7,337.9" fill="none" stroke="#00ff00" stroke-width="1.9" stroke-linejoin="round" stroke-linecap="butt"/>
<polyline points="277.5,337 283.35,348.7 289.2,337.8 295.05,325.3 300.9,332.2 306.75,342.6 312.6,352.2 318.45,345.8 324.3,338.2 330.15,326.9 336,333 341.85,341 347.7,356.7 353.55,348.2 359.4,338.6 365.25,327.9 371.1,332.2 376.95,338 382.8,340.2 388.65,336.2 394.5,328.5 400.35,322.1 406.2,318.3 412.05,316.7 417.9,321.4 423.75,323.3 429.6,321.4 435.45,316.1 441.3,321.3 447.15,318.7 453,304 458.85,290.9 464.7,307.2" fill="none" stroke="#0000ff" stroke-width="1.9" stroke-linejoin="round" stroke-linecap="butt"/>
<polyline points="277.5,327.9 283.35,345.5 289.2,351.4 295.05,354.2 300.9,352.2 306.75,348.2 312.6,345.8 318.45,345 324.3,344.3 330.15,342.5 336,340.2 341.85,333 347.7,326.9 353.55,320.5 359.4,308.7 365.25,305.8 371.1,299.1 376.95,309.8 382.8,306 388.65,326.3 394.5,326.3 400.35,313 406.2,304.5 412.05,296.2 417.9,307.3 423.75,314.5 429.6,318.2 435.45,314.5 441.3,314.9 447.15,322.4 453,317.1 458.85,302.7 464.7,306.4" fill="none" stroke="#ff0000" stroke-width="1.9" stroke-linejoin="round" stroke-linecap="butt"/>
<rect x="275" y="281.6" width="192.8" height="96" fill="none" stroke="#000" stroke-width="1.15"/>
<line x1="270" y1="363.2" x2="275" y2="363.2" stroke="#000" stroke-width="1.1"/>
<line x1="270" y1="344" x2="275" y2="344" stroke="#000" stroke-width="1.1"/>
<line x1="270" y1="324.8" x2="275" y2="324.8" stroke="#000" stroke-width="1.1"/>
<line x1="270" y1="305.6" x2="275" y2="305.6" stroke="#000" stroke-width="1.1"/>
<line x1="270" y1="286.4" x2="275" y2="286.4" stroke="#000" stroke-width="1.1"/>
<line x1="272.5" y1="377.6" x2="275" y2="377.6" stroke="#000" stroke-width="0.9900000000000001"/>
<line x1="272.5" y1="372.8" x2="275" y2="372.8" stroke="#000" stroke-width="0.9900000000000001"/>
<line x1="272.5" y1="368" x2="275" y2="368" stroke="#000" stroke-width="0.9900000000000001"/>
<line x1="272.5" y1="358.4" x2="275" y2="358.4" stroke="#000" stroke-width="0.9900000000000001"/>
<line x1="272.5" y1="353.6" x2="275" y2="353.6" stroke="#000" stroke-width="0.9900000000000001"/>
<line x1="272.5" y1="348.8" x2="275" y2="348.8" stroke="#000" stroke-width="0.9900000000000001"/>
<line x1="272.5" y1="339.2" x2="275" y2="339.2" stroke="#000" stroke-width="0.9900000000000001"/>
<line x1="272.5" y1="334.4" x2="275" y2="334.4" stroke="#000" stroke-width="0.9900000000000001"/>
<line x1="272.5" y1="329.6" x2="275" y2="329.6" stroke="#000" stroke-width="0.9900000000000001"/>
<line x1="272.5" y1="320" x2="275" y2="320" stroke="#000" stroke-width="0.9900000000000001"/>
<line x1="272.5" y1="315.2" x2="275" y2="315.2" stroke="#000" stroke-width="0.9900000000000001"/>
<line x1="272.5" y1="310.4" x2="275" y2="310.4" stroke="#000" stroke-width="0.9900000000000001"/>
<line x1="272.5" y1="300.8" x2="275" y2="300.8" stroke="#000" stroke-width="0.9900000000000001"/>
<line x1="272.5" y1="296" x2="275" y2="296" stroke="#000" stroke-width="0.9900000000000001"/>
<line x1="272.5" y1="291.2" x2="275" y2="291.2" stroke="#000" stroke-width="0.9900000000000001"/>
<line x1="272.5" y1="281.6" x2="275" y2="281.6" stroke="#000" stroke-width="0.9900000000000001"/>
<text x="264.8" y="365.7" text-anchor="end" font-size="8.0">8</text>
<text x="264.8" y="346.5" text-anchor="end" font-size="8.0">12</text>
<text x="264.8" y="327.3" text-anchor="end" font-size="8.0">16</text>
<text x="264.8" y="308.1" text-anchor="end" font-size="8.0">20</text>
<text x="264.8" y="288.9" text-anchor="end" font-size="8.0">24</text>
<line x1="277.5" y1="377.6" x2="277.5" y2="382.6" stroke="#000" stroke-width="1.1"/>
<text x="277.5" y="393.4" text-anchor="middle" font-size="7.8">1982</text>
<line x1="283.35" y1="377.6" x2="283.35" y2="380.1" stroke="#000" stroke-width="0.9900000000000001"/>
<line x1="289.2" y1="377.6" x2="289.2" y2="380.1" stroke="#000" stroke-width="0.9900000000000001"/>
<line x1="295.05" y1="377.6" x2="295.05" y2="380.1" stroke="#000" stroke-width="0.9900000000000001"/>
<line x1="300.9" y1="377.6" x2="300.9" y2="382.6" stroke="#000" stroke-width="1.1"/>
<text x="300.9" y="393.4" text-anchor="middle" font-size="7.8">1986</text>
<line x1="306.75" y1="377.6" x2="306.75" y2="380.1" stroke="#000" stroke-width="0.9900000000000001"/>
<line x1="312.6" y1="377.6" x2="312.6" y2="380.1" stroke="#000" stroke-width="0.9900000000000001"/>
<line x1="318.45" y1="377.6" x2="318.45" y2="380.1" stroke="#000" stroke-width="0.9900000000000001"/>
<line x1="324.3" y1="377.6" x2="324.3" y2="382.6" stroke="#000" stroke-width="1.1"/>
<text x="324.3" y="393.4" text-anchor="middle" font-size="7.8">1990</text>
<line x1="330.15" y1="377.6" x2="330.15" y2="380.1" stroke="#000" stroke-width="0.9900000000000001"/>
<line x1="336" y1="377.6" x2="336" y2="380.1" stroke="#000" stroke-width="0.9900000000000001"/>
<line x1="341.85" y1="377.6" x2="341.85" y2="380.1" stroke="#000" stroke-width="0.9900000000000001"/>
<line x1="347.7" y1="377.6" x2="347.7" y2="382.6" stroke="#000" stroke-width="1.1"/>
<text x="347.7" y="393.4" text-anchor="middle" font-size="7.8">1994</text>
<line x1="353.55" y1="377.6" x2="353.55" y2="380.1" stroke="#000" stroke-width="0.9900000000000001"/>
<line x1="359.4" y1="377.6" x2="359.4" y2="380.1" stroke="#000" stroke-width="0.9900000000000001"/>
<line x1="365.25" y1="377.6" x2="365.25" y2="380.1" stroke="#000" stroke-width="0.9900000000000001"/>
<line x1="371.1" y1="377.6" x2="371.1" y2="382.6" stroke="#000" stroke-width="1.1"/>
<text x="371.1" y="393.4" text-anchor="middle" font-size="7.8">1998</text>
<line x1="376.95" y1="377.6" x2="376.95" y2="380.1" stroke="#000" stroke-width="0.9900000000000001"/>
<line x1="382.8" y1="377.6" x2="382.8" y2="380.1" stroke="#000" stroke-width="0.9900000000000001"/>
<line x1="388.65" y1="377.6" x2="388.65" y2="380.1" stroke="#000" stroke-width="0.9900000000000001"/>
<line x1="394.5" y1="377.6" x2="394.5" y2="382.6" stroke="#000" stroke-width="1.1"/>
<text x="394.5" y="393.4" text-anchor="middle" font-size="7.8">2002</text>
<line x1="400.35" y1="377.6" x2="400.35" y2="380.1" stroke="#000" stroke-width="0.9900000000000001"/>
<line x1="406.2" y1="377.6" x2="406.2" y2="380.1" stroke="#000" stroke-width="0.9900000000000001"/>
<line x1="412.05" y1="377.6" x2="412.05" y2="380.1" stroke="#000" stroke-width="0.9900000000000001"/>
<line x1="417.9" y1="377.6" x2="417.9" y2="382.6" stroke="#000" stroke-width="1.1"/>
<text x="417.9" y="393.4" text-anchor="middle" font-size="7.8">2006</text>
<line x1="423.75" y1="377.6" x2="423.75" y2="380.1" stroke="#000" stroke-width="0.9900000000000001"/>
<line x1="429.6" y1="377.6" x2="429.6" y2="380.1" stroke="#000" stroke-width="0.9900000000000001"/>
<line x1="435.45" y1="377.6" x2="435.45" y2="380.1" stroke="#000" stroke-width="0.9900000000000001"/>
<line x1="441.3" y1="377.6" x2="441.3" y2="382.6" stroke="#000" stroke-width="1.1"/>
<text x="441.3" y="393.4" text-anchor="middle" font-size="7.8">2010</text>
<line x1="447.15" y1="377.6" x2="447.15" y2="380.1" stroke="#000" stroke-width="0.9900000000000001"/>
<line x1="453" y1="377.6" x2="453" y2="380.1" stroke="#000" stroke-width="0.9900000000000001"/>
<line x1="458.85" y1="377.6" x2="458.85" y2="380.1" stroke="#000" stroke-width="0.9900000000000001"/>
<line x1="464.7" y1="377.6" x2="464.7" y2="382.6" stroke="#000" stroke-width="1.1"/>
<text x="464.7" y="393.4" text-anchor="middle" font-size="7.8">2014</text>
<text class="t" x="274" y="279" font-size="10.35">(f) Summer time series of bottom melting</text>
<text class="a" transform="translate(250.1,329.6) rotate(-90)" text-anchor="middle" font-size="8.4" letter-spacing="0.08">Bottom melting (W m<tspan font-size="5" dy="-3.6">2</tspan><tspan dy="3.6">)</tspan></text>
<polyline points="34.5,511 52.18,511 69.86,511 87.55,510.6 105.23,509.8 122.91,504.4 140.59,500.9 158.27,504.5 175.95,509.8 193.64,510.6 211.32,511 229,511" fill="none" stroke="#0000ff" stroke-width="1.9" stroke-linejoin="round" stroke-linecap="butt"/>
<polyline points="34.5,511 52.18,511 69.86,511 87.55,510.5 105.23,508.3 122.91,480.4 140.59,416.6 158.27,434.3 175.95,493.2 193.64,510 211.32,511 229,511" fill="none" stroke="#ff0000" stroke-width="1.9" stroke-linejoin="round" stroke-linecap="butt"/>
<rect x="34.5" y="413.7" width="194.5" height="97.3" fill="none" stroke="#000" stroke-width="1.15"/>
<line x1="29.5" y1="511" x2="34.5" y2="511" stroke="#000" stroke-width="1.1"/>
<line x1="29.5" y1="495.43" x2="34.5" y2="495.43" stroke="#000" stroke-width="1.1"/>
<line x1="29.5" y1="479.86" x2="34.5" y2="479.86" stroke="#000" stroke-width="1.1"/>
<line x1="29.5" y1="464.3" x2="34.5" y2="464.3" stroke="#000" stroke-width="1.1"/>
<line x1="29.5" y1="448.73" x2="34.5" y2="448.73" stroke="#000" stroke-width="1.1"/>
<line x1="29.5" y1="433.16" x2="34.5" y2="433.16" stroke="#000" stroke-width="1.1"/>
<line x1="29.5" y1="417.59" x2="34.5" y2="417.59" stroke="#000" stroke-width="1.1"/>
<line x1="32" y1="507.11" x2="34.5" y2="507.11" stroke="#000" stroke-width="0.9900000000000001"/>
<line x1="32" y1="503.22" x2="34.5" y2="503.22" stroke="#000" stroke-width="0.9900000000000001"/>
<line x1="32" y1="499.32" x2="34.5" y2="499.32" stroke="#000" stroke-width="0.9900000000000001"/>
<line x1="32" y1="491.54" x2="34.5" y2="491.54" stroke="#000" stroke-width="0.9900000000000001"/>
<line x1="32" y1="487.65" x2="34.5" y2="487.65" stroke="#000" stroke-width="0.9900000000000001"/>
<line x1="32" y1="483.76" x2="34.5" y2="483.76" stroke="#000" stroke-width="0.9900000000000001"/>
<line x1="32" y1="475.97" x2="34.5" y2="475.97" stroke="#000" stroke-width="0.9900000000000001"/>
<line x1="32" y1="472.08" x2="34.5" y2="472.08" stroke="#000" stroke-width="0.9900000000000001"/>
<line x1="32" y1="468.19" x2="34.5" y2="468.19" stroke="#000" stroke-width="0.9900000000000001"/>
<line x1="32" y1="460.4" x2="34.5" y2="460.4" stroke="#000" stroke-width="0.9900000000000001"/>
<line x1="32" y1="456.51" x2="34.5" y2="456.51" stroke="#000" stroke-width="0.9900000000000001"/>
<line x1="32" y1="452.62" x2="34.5" y2="452.62" stroke="#000" stroke-width="0.9900000000000001"/>
<line x1="32" y1="444.84" x2="34.5" y2="444.84" stroke="#000" stroke-width="0.9900000000000001"/>
<line x1="32" y1="440.94" x2="34.5" y2="440.94" stroke="#000" stroke-width="0.9900000000000001"/>
<line x1="32" y1="437.05" x2="34.5" y2="437.05" stroke="#000" stroke-width="0.9900000000000001"/>
<line x1="32" y1="429.27" x2="34.5" y2="429.27" stroke="#000" stroke-width="0.9900000000000001"/>
<line x1="32" y1="425.38" x2="34.5" y2="425.38" stroke="#000" stroke-width="0.9900000000000001"/>
<line x1="32" y1="421.48" x2="34.5" y2="421.48" stroke="#000" stroke-width="0.9900000000000001"/>
<line x1="32" y1="413.7" x2="34.5" y2="413.7" stroke="#000" stroke-width="0.9900000000000001"/>
<text x="24.3" y="513.5" text-anchor="end" font-size="8.0">0</text>
<text x="24.3" y="497.93" text-anchor="end" font-size="8.0">4</text>
<text x="24.3" y="482.36" text-anchor="end" font-size="8.0">8</text>
<text x="24.3" y="466.8" text-anchor="end" font-size="8.0">12</text>
<text x="24.3" y="451.23" text-anchor="end" font-size="8.0">16</text>
<text x="24.3" y="435.66" text-anchor="end" font-size="8.0">20</text>
<text x="24.3" y="420.09" text-anchor="end" font-size="8.0">24</text>
<line x1="34.5" y1="511" x2="34.5" y2="516" stroke="#000" stroke-width="1.1"/>
<text x="34.5" y="526.8" text-anchor="middle" font-size="7.8">Jan</text>
<line x1="52.18" y1="511" x2="52.18" y2="516" stroke="#000" stroke-width="1.1"/>
<text x="52.18" y="526.8" text-anchor="middle" font-size="7.8">Feb</text>
<line x1="69.86" y1="511" x2="69.86" y2="516" stroke="#000" stroke-width="1.1"/>
<text x="69.86" y="526.8" text-anchor="middle" font-size="7.8">Mar</text>
<line x1="87.55" y1="511" x2="87.55" y2="516" stroke="#000" stroke-width="1.1"/>
<text x="87.55" y="526.8" text-anchor="middle" font-size="7.8">Apr</text>
<line x1="105.23" y1="511" x2="105.23" y2="516" stroke="#000" stroke-width="1.1"/>
<text x="105.23" y="526.8" text-anchor="middle" font-size="7.8">May</text>
<line x1="122.91" y1="511" x2="122.91" y2="516" stroke="#000" stroke-width="1.1"/>
<text x="122.91" y="526.8" text-anchor="middle" font-size="7.8">Jun</text>
<line x1="140.59" y1="511" x2="140.59" y2="516" stroke="#000" stroke-width="1.1"/>
<text x="140.59" y="526.8" text-anchor="middle" font-size="7.8">Jul</text>
<line x1="158.27" y1="511" x2="158.27" y2="516" stroke="#000" stroke-width="1.1"/>
<text x="158.27" y="526.8" text-anchor="middle" font-size="7.8">Aug</text>
<line x1="175.95" y1="511" x2="175.95" y2="516" stroke="#000" stroke-width="1.1"/>
<text x="175.95" y="526.8" text-anchor="middle" font-size="7.8">Sep</text>
<line x1="193.64" y1="511" x2="193.64" y2="516" stroke="#000" stroke-width="1.1"/>
<text x="193.64" y="526.8" text-anchor="middle" font-size="7.8">Oct</text>
<line x1="211.32" y1="511" x2="211.32" y2="516" stroke="#000" stroke-width="1.1"/>
<text x="211.32" y="526.8" text-anchor="middle" font-size="7.8">Nov</text>
<line x1="229" y1="511" x2="229" y2="516" stroke="#000" stroke-width="1.1"/>
<text x="229" y="526.8" text-anchor="middle" font-size="7.8">Dec</text>
<text class="t" x="33.5" y="411.1" font-size="10.35">(g) Annual cycle for lateral melting</text>
<text class="a" transform="translate(9.5,462.35) rotate(-90)" text-anchor="middle" font-size="8.4" letter-spacing="0.08">Lateral melting (W m<tspan font-size="5" dy="-3.6">2</tspan><tspan dy="3.6">)</tspan></text>
<polyline points="275.5,506.3 281.41,506.1 287.32,505.8 293.23,505.5 299.14,505.8 305.05,506.7 310.96,506.5 316.87,505.8 322.77,504.8 328.68,504 334.59,504.6 340.5,505.5 346.41,506.8 352.32,505.5 358.23,505.3 364.14,504.4 370.05,505 375.96,505.5 381.87,505.8 387.78,505.4 393.69,505 399.6,505.2 405.51,505.5 411.42,505 417.33,505.3 423.23,505.6 429.14,505.7 435.05,505.4 440.96,505.1 446.87,504.5 452.78,503.8 458.69,504.3 464.6,505.4" fill="none" stroke="#0000ff" stroke-width="1.9" stroke-linejoin="round" stroke-linecap="butt"/>
<polyline points="275.5,460.4 281.41,448.8 287.32,450.6 293.23,449.7 299.14,454.7 305.05,456 310.96,451.3 316.87,449.3 322.77,448.8 328.68,454.6 334.59,455.2 340.5,441.5 346.41,434.6 352.32,430.8 358.23,430.8 364.14,437.7 370.05,440.3 375.96,452.9 381.87,439.6 387.78,453.5 393.69,448.5 399.6,446.6 405.51,444.7 411.42,437.1 417.33,454.3 423.23,455.7 429.14,465.3 435.05,456.4 440.96,455.4 446.87,449.1 452.78,442.5 458.69,439.6 464.6,446.6" fill="none" stroke="#ff0000" stroke-width="1.9" stroke-linejoin="round" stroke-linecap="butt"/>
<rect x="272.5" y="413.7" width="195.3" height="97.3" fill="none" stroke="#000" stroke-width="1.15"/>
<line x1="267.5" y1="511" x2="272.5" y2="511" stroke="#000" stroke-width="1.1"/>
<line x1="267.5" y1="495.43" x2="272.5" y2="495.43" stroke="#000" stroke-width="1.1"/>
<line x1="267.5" y1="479.86" x2="272.5" y2="479.86" stroke="#000" stroke-width="1.1"/>
<line x1="267.5" y1="464.3" x2="272.5" y2="464.3" stroke="#000" stroke-width="1.1"/>
<line x1="267.5" y1="448.73" x2="272.5" y2="448.73" stroke="#000" stroke-width="1.1"/>
<line x1="267.5" y1="433.16" x2="272.5" y2="433.16" stroke="#000" stroke-width="1.1"/>
<line x1="267.5" y1="417.59" x2="272.5" y2="417.59" stroke="#000" stroke-width="1.1"/>
<line x1="270" y1="507.11" x2="272.5" y2="507.11" stroke="#000" stroke-width="0.9900000000000001"/>
<line x1="270" y1="503.22" x2="272.5" y2="503.22" stroke="#000" stroke-width="0.9900000000000001"/>
<line x1="270" y1="499.32" x2="272.5" y2="499.32" stroke="#000" stroke-width="0.9900000000000001"/>
<line x1="270" y1="491.54" x2="272.5" y2="491.54" stroke="#000" stroke-width="0.9900000000000001"/>
<line x1="270" y1="487.65" x2="272.5" y2="487.65" stroke="#000" stroke-width="0.9900000000000001"/>
<line x1="270" y1="483.76" x2="272.5" y2="483.76" stroke="#000" stroke-width="0.9900000000000001"/>
<line x1="270" y1="475.97" x2="272.5" y2="475.97" stroke="#000" stroke-width="0.9900000000000001"/>
<line x1="270" y1="472.08" x2="272.5" y2="472.08" stroke="#000" stroke-width="0.9900000000000001"/>
<line x1="270" y1="468.19" x2="272.5" y2="468.19" stroke="#000" stroke-width="0.9900000000000001"/>
<line x1="270" y1="460.4" x2="272.5" y2="460.4" stroke="#000" stroke-width="0.9900000000000001"/>
<line x1="270" y1="456.51" x2="272.5" y2="456.51" stroke="#000" stroke-width="0.9900000000000001"/>
<line x1="270" y1="452.62" x2="272.5" y2="452.62" stroke="#000" stroke-width="0.9900000000000001"/>
<line x1="270" y1="444.84" x2="272.5" y2="444.84" stroke="#000" stroke-width="0.9900000000000001"/>
<line x1="270" y1="440.94" x2="272.5" y2="440.94" stroke="#000" stroke-width="0.9900000000000001"/>
<line x1="270" y1="437.05" x2="272.5" y2="437.05" stroke="#000" stroke-width="0.9900000000000001"/>
<line x1="270" y1="429.27" x2="272.5" y2="429.27" stroke="#000" stroke-width="0.9900000000000001"/>
<line x1="270" y1="425.38" x2="272.5" y2="425.38" stroke="#000" stroke-width="0.9900000000000001"/>
<line x1="270" y1="421.48" x2="272.5" y2="421.48" stroke="#000" stroke-width="0.9900000000000001"/>
<line x1="270" y1="413.7" x2="272.5" y2="413.7" stroke="#000" stroke-width="0.9900000000000001"/>
<text x="262.3" y="513.5" text-anchor="end" font-size="8.0">0</text>
<text x="262.3" y="497.93" text-anchor="end" font-size="8.0">4</text>
<text x="262.3" y="482.36" text-anchor="end" font-size="8.0">8</text>
<text x="262.3" y="466.8" text-anchor="end" font-size="8.0">12</text>
<text x="262.3" y="451.23" text-anchor="end" font-size="8.0">16</text>
<text x="262.3" y="435.66" text-anchor="end" font-size="8.0">20</text>
<text x="262.3" y="420.09" text-anchor="end" font-size="8.0">24</text>
<line x1="275.5" y1="511" x2="275.5" y2="516" stroke="#000" stroke-width="1.1"/>
<text x="275.5" y="526.8" text-anchor="middle" font-size="7.8">1982</text>
<line x1="281.41" y1="511" x2="281.41" y2="513.5" stroke="#000" stroke-width="0.9900000000000001"/>
<line x1="287.32" y1="511" x2="287.32" y2="513.5" stroke="#000" stroke-width="0.9900000000000001"/>
<line x1="293.23" y1="511" x2="293.23" y2="513.5" stroke="#000" stroke-width="0.9900000000000001"/>
<line x1="299.14" y1="511" x2="299.14" y2="516" stroke="#000" stroke-width="1.1"/>
<text x="299.14" y="526.8" text-anchor="middle" font-size="7.8">1986</text>
<line x1="305.05" y1="511" x2="305.05" y2="513.5" stroke="#000" stroke-width="0.9900000000000001"/>
<line x1="310.96" y1="511" x2="310.96" y2="513.5" stroke="#000" stroke-width="0.9900000000000001"/>
<line x1="316.87" y1="511" x2="316.87" y2="513.5" stroke="#000" stroke-width="0.9900000000000001"/>
<line x1="322.77" y1="511" x2="322.77" y2="516" stroke="#000" stroke-width="1.1"/>
<text x="322.77" y="526.8" text-anchor="middle" font-size="7.8">1990</text>
<line x1="328.68" y1="511" x2="328.68" y2="513.5" stroke="#000" stroke-width="0.9900000000000001"/>
<line x1="334.59" y1="511" x2="334.59" y2="513.5" stroke="#000" stroke-width="0.9900000000000001"/>
<line x1="340.5" y1="511" x2="340.5" y2="513.5" stroke="#000" stroke-width="0.9900000000000001"/>
<line x1="346.41" y1="511" x2="346.41" y2="516" stroke="#000" stroke-width="1.1"/>
<text x="346.41" y="526.8" text-anchor="middle" font-size="7.8">1994</text>
<line x1="352.32" y1="511" x2="352.32" y2="513.5" stroke="#000" stroke-width="0.9900000000000001"/>
<line x1="358.23" y1="511" x2="358.23" y2="513.5" stroke="#000" stroke-width="0.9900000000000001"/>
<line x1="364.14" y1="511" x2="364.14" y2="513.5" stroke="#000" stroke-width="0.9900000000000001"/>
<line x1="370.05" y1="511" x2="370.05" y2="516" stroke="#000" stroke-width="1.1"/>
<text x="370.05" y="526.8" text-anchor="middle" font-size="7.8">1998</text>
<line x1="375.96" y1="511" x2="375.96" y2="513.5" stroke="#000" stroke-width="0.9900000000000001"/>
<line x1="381.87" y1="511" x2="381.87" y2="513.5" stroke="#000" stroke-width="0.9900000000000001"/>
<line x1="387.78" y1="511" x2="387.78" y2="513.5" stroke="#000" stroke-width="0.9900000000000001"/>
<line x1="393.69" y1="511" x2="393.69" y2="516" stroke="#000" stroke-width="1.1"/>
<text x="393.69" y="526.8" text-anchor="middle" font-size="7.8">2002</text>
<line x1="399.6" y1="511" x2="399.6" y2="513.5" stroke="#000" stroke-width="0.9900000000000001"/>
<line x1="405.51" y1="511" x2="405.51" y2="513.5" stroke="#000" stroke-width="0.9900000000000001"/>
<line x1="411.42" y1="511" x2="411.42" y2="513.5" stroke="#000" stroke-width="0.9900000000000001"/>
<line x1="417.33" y1="511" x2="417.33" y2="516" stroke="#000" stroke-width="1.1"/>
<text x="417.33" y="526.8" text-anchor="middle" font-size="7.8">2006</text>
<line x1="423.23" y1="511" x2="423.23" y2="513.5" stroke="#000" stroke-width="0.9900000000000001"/>
<line x1="429.14" y1="511" x2="429.14" y2="513.5" stroke="#000" stroke-width="0.9900000000000001"/>
<line x1="435.05" y1="511" x2="435.05" y2="513.5" stroke="#000" stroke-width="0.9900000000000001"/>
<line x1="440.96" y1="511" x2="440.96" y2="516" stroke="#000" stroke-width="1.1"/>
<text x="440.96" y="526.8" text-anchor="middle" font-size="7.8">2010</text>
<line x1="446.87" y1="511" x2="446.87" y2="513.5" stroke="#000" stroke-width="0.9900000000000001"/>
<line x1="452.78" y1="511" x2="452.78" y2="513.5" stroke="#000" stroke-width="0.9900000000000001"/>
<line x1="458.69" y1="511" x2="458.69" y2="513.5" stroke="#000" stroke-width="0.9900000000000001"/>
<line x1="464.6" y1="511" x2="464.6" y2="516" stroke="#000" stroke-width="1.1"/>
<text x="464.6" y="526.8" text-anchor="middle" font-size="7.8">2014</text>
<text class="t" x="271.5" y="411.1" font-size="10.35">(h) Summer time series of lateral melting</text>
<text class="a" transform="translate(248.7,462.35) rotate(-90)" text-anchor="middle" font-size="8.4" letter-spacing="0.08">Lateral melting (W m<tspan font-size="5" dy="-3.6">2</tspan><tspan dy="3.6">)</tspan></text>
<line x1="45" y1="23.0" x2="80" y2="23.0" stroke="#ff0000" stroke-width="1.9"/>
<text class="l" x="79.6" y="25.5" font-size="8.4">Exp_new</text>
<line x1="45" y1="41.1" x2="80" y2="41.1" stroke="#0000ff" stroke-width="1.9"/>
<text class="l" x="79.6" y="43.6" font-size="8.4">Exp_d300</text>
<line x1="45" y1="59.4" x2="80" y2="59.4" stroke="#00ff00" stroke-width="1.9"/>
<text class="l" x="79.6" y="61.9" font-size="8.4">Exp_ctr</text>
</svg>
</body></html>
